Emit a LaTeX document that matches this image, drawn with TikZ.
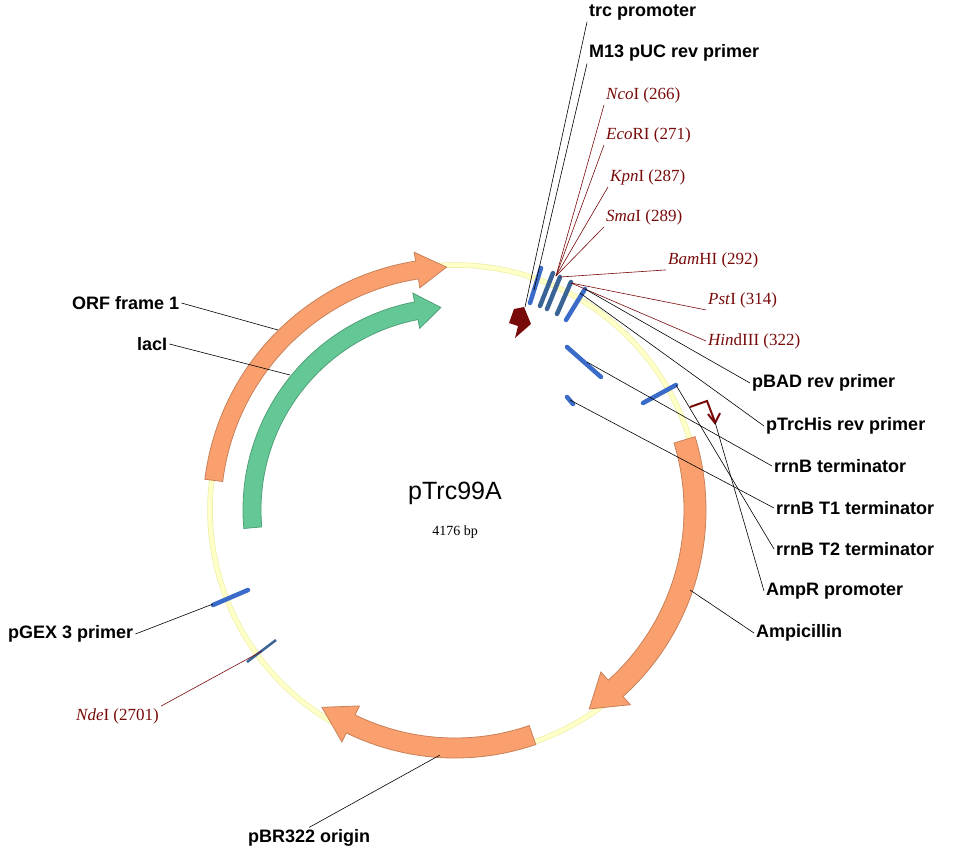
\documentclass[tikz,border=0pt]{standalone}
\usepackage{fontspec}
\setmainfont{Liberation Serif}
\newfontfamily\lsans{Liberation Sans}
\usetikzlibrary{calc}
\definecolor{bb}{RGB}{255,255,200}
\definecolor{bbl}{RGB}{238,238,170}
\definecolor{orf}{RGB}{250,160,110}
\definecolor{grn}{RGB}{100,200,150}
\definecolor{blu}{RGB}{58,107,200}
\definecolor{dblu}{RGB}{58,100,150}
\definecolor{dred}{RGB}{120,10,10}
\tikzset{
 lab/.style={font=\lsans\bfseries\fontsize{18}{20}\selectfont, inner sep=2pt, anchor=west},
 site/.style={font=\fontsize{17}{19}\selectfont, text=dred, inner sep=2pt, anchor=west},
 bline/.style={black, line width=0.6pt},
 rline/.style={dred, line width=0.6pt},
 bar/.style={blu, line width=4.5pt, line cap=round},
 dbar/.style={dblu, line width=4.5pt, line cap=round},
}
\newcommand\parrow[6]{%
 \filldraw[fill=#6, draw=#6!80!black, line width=0.8pt]
 ($(C)+(-#1:#3+#4/2)$) arc[start angle=-#1, end angle=-(#2+#5), radius=#3+#4/2]
 -- ($(C)+(-#2-#5:#3+#4)$) -- ($(C)+(-#2:#3)$) -- ($(C)+(-#2-#5:#3-#4)$)
 -- ($(C)+(-#2-#5:#3-#4/2)$) arc[start angle=-(#2+#5), end angle=-#1, radius=#3-#4/2] -- cycle;}
\begin{document}
\begin{tikzpicture}[x=1pt,y=-1pt]
\useasboundingbox (0,0) rectangle (958,855);
\coordinate (C) at (455,510);
% backbone
\draw[bbl, line width=5.5pt] (C) circle[radius=245];
\draw[bb, line width=4pt] (C) circle[radius=245];
% features
\parrow{173}{92}{243}{18}{7}{orf}
\parrow{185}{94}{203}{18}{7}{grn}
\parrow{17}{-56}{240}{22}{8}{orf}
\parrow{-71}{-124}{238}{20}{8}{orf}
% trc promoter pentagon
\fill[dred] (509,323) -- (514,309) -- (524,307) -- (531,324) -- (515,338) -- (518,326) -- cycle;
\coordinate (trc) at (525,307);
% bars
\draw[bar] (541,268) -- (530,303);
\draw[dbar] (553,273) -- (540,306);
\draw[dbar] (560,277) -- (547,309);
\draw[dbar] (571,282) -- (557,314);
\draw[bar] (585,289) -- (566,320);
\draw[bar] (567,347) -- (601,377);
\draw[bar] (567,397) -- (573,404);
\draw[bar] (643,403) -- (676,385);
\draw[bar] (213,605) -- (248,590);
\draw[dblu, line width=2.5pt] (247,662) -- (276,640);
% AmpR promoter arrow
\draw[dred, line width=2pt] (690,407) -- (707,401) -- (715,422);
\draw[dred, line width=2pt] (708,414) -- (715,423) -- (720,413);
% center
\node (name) at (455,493) {\lsans\fontsize{25}{28}\selectfont pTrc99A};
\node (bp) at (455,532) {\fontsize{14}{16}\selectfont 4176 bp};
% labels
\node[lab] (l1) at (587,12) {trc promoter};
\node[lab] (l2) at (587,53) {M13 pUC rev primer};
\node[site] (s1) at (604,95) {\textit{Nco}I (266)};
\node[site] (s2) at (604,135) {\textit{Eco}RI (271)};
\node[site] (s3) at (608,177) {\textit{Kpn}I (287)};
\node[site] (s4) at (604,217) {\textit{Sma}I (289)};
\node[site] (s5) at (666,260) {\textit{Bam}HI (292)};
\node[site] (s6) at (706,300) {\textit{Pst}I (314)};
\node[site] (s7) at (706,341) {\textit{Hin}dIII (322)};
\node[lab] (l3) at (750,383) {pBAD rev primer};
\node[lab] (l4) at (764,426) {pTrcHis rev primer};
\node[lab] (l5) at (772,466) {rrnB terminator};
\node[lab] (l6) at (774,508) {rrnB T1 terminator};
\node[lab] (l7) at (774,549) {rrnB T2 terminator};
\node[lab] (l8) at (764,591) {AmpR promoter};
\node[lab] (l9) at (754,633) {Ampicillin};
\node[lab] (l10) at (246,838) {pBR322 origin};
\node[lab] (l11) at (6,634) {pGEX 3 primer};
\node[site] (s8) at (74,716) {\textit{Nde}I (2701)};
\node[lab] (l12) at (135,344) {lacI};
\node[lab] (l13) at (70,303) {ORF frame 1};
% connectors
\draw[bline] (trc) -- (l1.south west);
\draw[bline] (534,290) -- (l2.south west);
\foreach \s in {s1,s2,s3,s4} \draw[rline] (556,276) -- (\s.south west);
\draw[rline] (560,277) -- (s5.south west);
\draw[rline] (571,283) -- (s6.south west);
\draw[rline] (571,283) -- (s7.west);
\draw[bline] (585,289) -- (l3.west);
\draw[bline] (580,293) -- (l4.west);
\draw[bline] (587,362) -- (l5.west);
\draw[bline] (570,400) -- (l6.west);
\draw[bline] (676,385) -- (l7.west);
\draw[bline] (715,422) -- (l8.west);
\draw[bline] (690,590) -- (l9.west);
\draw[bline] (440,755) -- (l10.north);
\draw[bline] (213,604) -- (l11.east);
\draw[rline] (262,651) -- (s8.north east);
\draw[bline] (290,375) -- (l12.east);
\draw[bline] (278,330) -- (l13.east);
\end{tikzpicture}
\end{document}
